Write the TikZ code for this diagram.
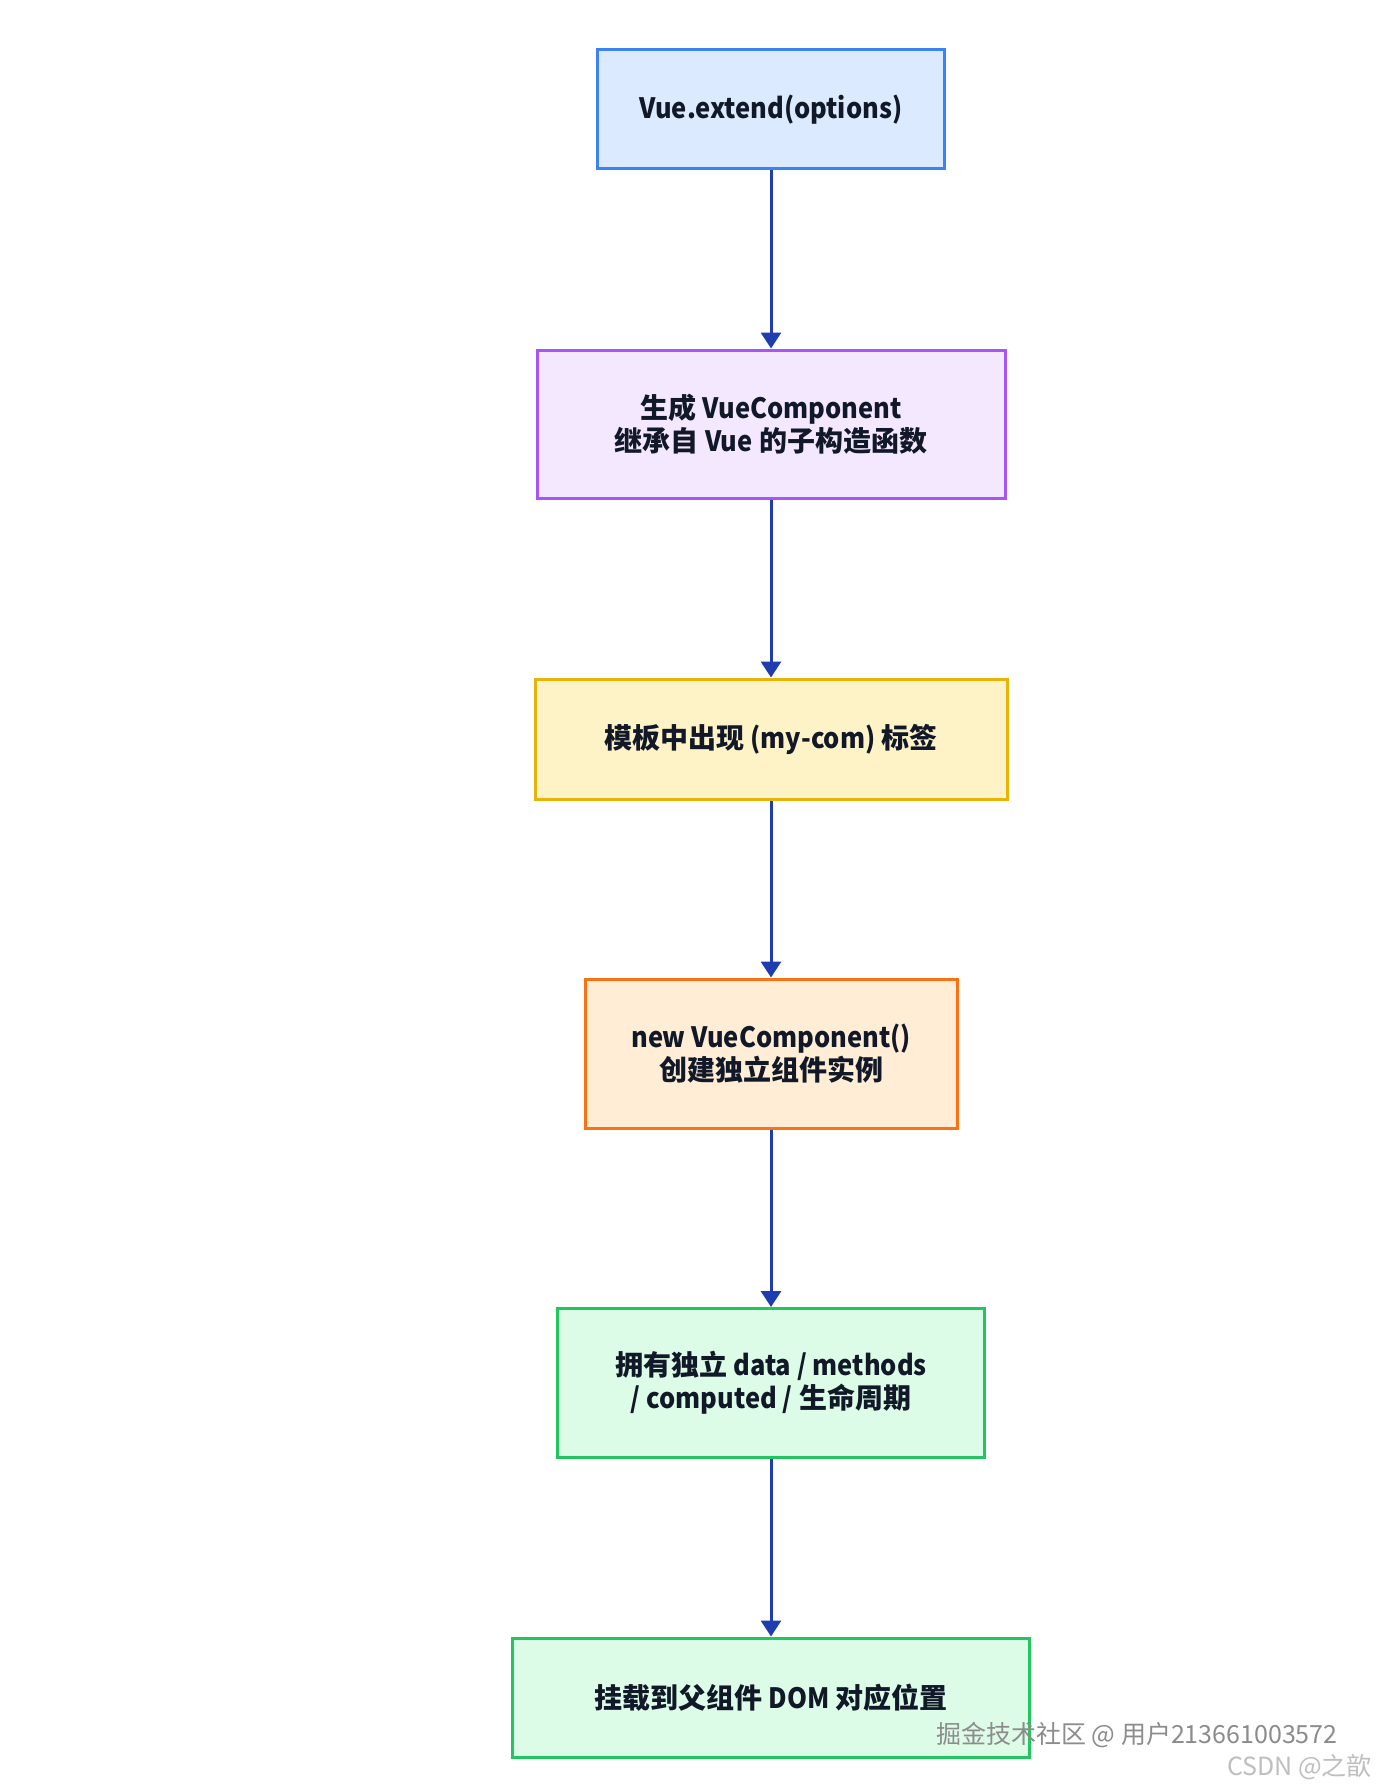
\documentclass[tikz,border=0pt]{standalone}
\usepackage{fontspec}
\setmainfont{Noto Sans CJK SC}
\usetikzlibrary{arrows.meta}
\newcommand{\lat}[1]{{\addfontfeature{FakeStretch=0.91}#1}}
\definecolor{txt}{HTML}{111827}
\definecolor{arr}{HTML}{1E3DB0}
\definecolor{bluefill}{HTML}{DBEAFE}\definecolor{blueline}{HTML}{3B82F6}
\definecolor{purfill}{HTML}{F3E8FF}\definecolor{purline}{HTML}{A855F7}
\definecolor{yelfill}{HTML}{FEF3C7}\definecolor{yelline}{HTML}{EAB308}
\definecolor{orfill}{HTML}{FFEDD5}\definecolor{orline}{HTML}{F97316}
\definecolor{grfill}{HTML}{DCFCE7}\definecolor{grline}{HTML}{22C55E}
\tikzset{
  flowbox/.style={draw, line width=3pt, inner sep=0pt, align=center,
    font=\fontsize{28}{33}\selectfont\bfseries, text=txt},
  flowarrow/.style={draw=arr, line width=3pt, -{Triangle[width=20pt,length=16pt]}},
  wm/.style={font=\fontsize{25}{28}\selectfont, inner sep=0pt, anchor=west}
}
\begin{document}
\begin{tikzpicture}[x=1pt,y=-1pt]
\useasboundingbox (0,0) rectangle (1382,1790);
\fill[white] (0,0) rectangle (1382,1790);
\node[flowbox, fill=bluefill, draw=blueline, minimum width=347pt, minimum height=119pt] (b1) at (771,109.5) {\lat{Vue.extend(options)}};
\node[flowbox, fill=purfill, draw=purline, minimum width=468pt, minimum height=148pt] (b2) at (771,424) {生成 \lat{VueComponent}\\继承自 \lat{Vue} 的子构造函数};
\node[flowbox, fill=yelfill, draw=yelline, minimum width=472pt, minimum height=120pt] (b3) at (771,739) {模板中出现 \lat{(my-com)} 标签};
\node[flowbox, fill=orfill, draw=orline, minimum width=372pt, minimum height=149pt] (b4) at (771,1053.5) {\lat{new VueComponent()}\\创建独立组件实例};
\node[flowbox, fill=grfill, draw=grline, minimum width=427pt, minimum height=149pt] (b5) at (771,1383) {拥有独立 \lat{data / methods}\\\lat{/ computed /} 生命周期};
\node[flowbox, fill=grfill, draw=grline, minimum width=517pt, minimum height=119pt] (b6) at (771,1697.5) {挂载到父组件 \lat{DOM} 对应位置};
\draw[flowarrow] (b1.south) -- (b2.north);
\draw[flowarrow] (b2.south) -- (b3.north);
\draw[flowarrow] (b3.south) -- (b4.north);
\draw[flowarrow] (b4.south) -- (b5.north);
\draw[flowarrow] (b5.south) -- (b6.north);
\node[wm, text=black!45] (w1) at (936,1735) {掘金技术社区 @ 用户213661003572};
\node[wm, text=black!25] (w2) at (1227,1767) {CSDN @之歆};
\end{tikzpicture}
\end{document}
